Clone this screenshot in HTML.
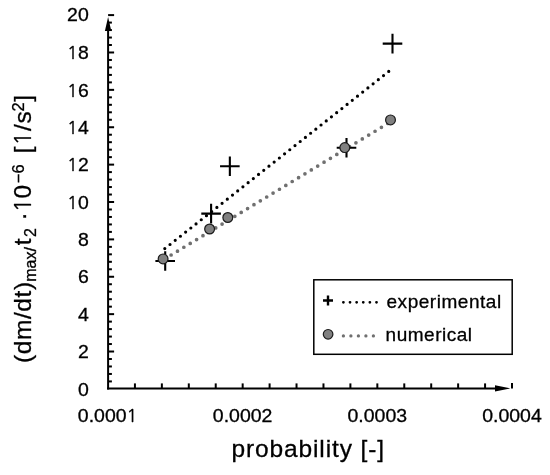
<!DOCTYPE html>
<html><head><meta charset="utf-8"><style>
html,body{margin:0;padding:0;background:#fff;}
body{width:550px;height:475px;overflow:hidden;}
svg{display:block;}
text{font-family:"Liberation Sans",Arial,sans-serif;fill:#000;stroke:#000;stroke-width:0.3px;}
.tl{font-size:18.5px;}
.lg{font-size:19px;}
.tt{font-size:24.5px;}
.one{font-family:"NanumGothic","Liberation Sans",sans-serif;font-size:0.926em;}
.sub{font-size:16px;}.sup{font-size:16.5px;}
</style></head><body>
<svg width="550" height="475" viewBox="0 0 550 475">
<rect width="550" height="475" fill="#fff"/>
<line x1="108.1" y1="389.4" x2="108.1" y2="28" stroke="#000" stroke-width="2"/>
<polygon points="108.1,17 104.89999999999999,31 111.3,31" fill="#000"/>
<line x1="107.1" y1="388.4" x2="497" y2="388.4" stroke="#000" stroke-width="2"/>
<polygon points="510.3,388.4 495,385.2 495,391.59999999999997" fill="#000"/>
<line x1="108.1" y1="381.42" x2="111.90" y2="381.42" stroke="#000" stroke-width="2"/>
<line x1="108.1" y1="373.95" x2="111.90" y2="373.95" stroke="#000" stroke-width="2"/>
<line x1="108.1" y1="366.47" x2="111.90" y2="366.47" stroke="#000" stroke-width="2"/>
<line x1="108.1" y1="359.00" x2="111.90" y2="359.00" stroke="#000" stroke-width="2"/>
<line x1="108.1" y1="351.52" x2="114.10" y2="351.52" stroke="#000" stroke-width="2"/>
<line x1="108.1" y1="344.04" x2="111.90" y2="344.04" stroke="#000" stroke-width="2"/>
<line x1="108.1" y1="336.57" x2="111.90" y2="336.57" stroke="#000" stroke-width="2"/>
<line x1="108.1" y1="329.09" x2="111.90" y2="329.09" stroke="#000" stroke-width="2"/>
<line x1="108.1" y1="321.62" x2="111.90" y2="321.62" stroke="#000" stroke-width="2"/>
<line x1="108.1" y1="314.14" x2="114.10" y2="314.14" stroke="#000" stroke-width="2"/>
<line x1="108.1" y1="306.66" x2="111.90" y2="306.66" stroke="#000" stroke-width="2"/>
<line x1="108.1" y1="299.19" x2="111.90" y2="299.19" stroke="#000" stroke-width="2"/>
<line x1="108.1" y1="291.71" x2="111.90" y2="291.71" stroke="#000" stroke-width="2"/>
<line x1="108.1" y1="284.24" x2="111.90" y2="284.24" stroke="#000" stroke-width="2"/>
<line x1="108.1" y1="276.76" x2="114.10" y2="276.76" stroke="#000" stroke-width="2"/>
<line x1="108.1" y1="269.28" x2="111.90" y2="269.28" stroke="#000" stroke-width="2"/>
<line x1="108.1" y1="261.81" x2="111.90" y2="261.81" stroke="#000" stroke-width="2"/>
<line x1="108.1" y1="254.33" x2="111.90" y2="254.33" stroke="#000" stroke-width="2"/>
<line x1="108.1" y1="246.86" x2="111.90" y2="246.86" stroke="#000" stroke-width="2"/>
<line x1="108.1" y1="239.38" x2="114.10" y2="239.38" stroke="#000" stroke-width="2"/>
<line x1="108.1" y1="231.90" x2="111.90" y2="231.90" stroke="#000" stroke-width="2"/>
<line x1="108.1" y1="224.43" x2="111.90" y2="224.43" stroke="#000" stroke-width="2"/>
<line x1="108.1" y1="216.95" x2="111.90" y2="216.95" stroke="#000" stroke-width="2"/>
<line x1="108.1" y1="209.48" x2="111.90" y2="209.48" stroke="#000" stroke-width="2"/>
<line x1="108.1" y1="202.00" x2="114.10" y2="202.00" stroke="#000" stroke-width="2"/>
<line x1="108.1" y1="194.52" x2="111.90" y2="194.52" stroke="#000" stroke-width="2"/>
<line x1="108.1" y1="187.05" x2="111.90" y2="187.05" stroke="#000" stroke-width="2"/>
<line x1="108.1" y1="179.57" x2="111.90" y2="179.57" stroke="#000" stroke-width="2"/>
<line x1="108.1" y1="172.10" x2="111.90" y2="172.10" stroke="#000" stroke-width="2"/>
<line x1="108.1" y1="164.62" x2="114.10" y2="164.62" stroke="#000" stroke-width="2"/>
<line x1="108.1" y1="157.14" x2="111.90" y2="157.14" stroke="#000" stroke-width="2"/>
<line x1="108.1" y1="149.67" x2="111.90" y2="149.67" stroke="#000" stroke-width="2"/>
<line x1="108.1" y1="142.19" x2="111.90" y2="142.19" stroke="#000" stroke-width="2"/>
<line x1="108.1" y1="134.72" x2="111.90" y2="134.72" stroke="#000" stroke-width="2"/>
<line x1="108.1" y1="127.24" x2="114.10" y2="127.24" stroke="#000" stroke-width="2"/>
<line x1="108.1" y1="119.76" x2="111.90" y2="119.76" stroke="#000" stroke-width="2"/>
<line x1="108.1" y1="112.29" x2="111.90" y2="112.29" stroke="#000" stroke-width="2"/>
<line x1="108.1" y1="104.81" x2="111.90" y2="104.81" stroke="#000" stroke-width="2"/>
<line x1="108.1" y1="97.34" x2="111.90" y2="97.34" stroke="#000" stroke-width="2"/>
<line x1="108.1" y1="89.86" x2="114.10" y2="89.86" stroke="#000" stroke-width="2"/>
<line x1="108.1" y1="82.38" x2="111.90" y2="82.38" stroke="#000" stroke-width="2"/>
<line x1="108.1" y1="74.91" x2="111.90" y2="74.91" stroke="#000" stroke-width="2"/>
<line x1="108.1" y1="67.43" x2="111.90" y2="67.43" stroke="#000" stroke-width="2"/>
<line x1="108.1" y1="59.96" x2="111.90" y2="59.96" stroke="#000" stroke-width="2"/>
<line x1="108.1" y1="52.48" x2="114.10" y2="52.48" stroke="#000" stroke-width="2"/>
<line x1="108.1" y1="45.00" x2="111.90" y2="45.00" stroke="#000" stroke-width="2"/>
<line x1="108.1" y1="37.53" x2="111.90" y2="37.53" stroke="#000" stroke-width="2"/>
<line x1="108.1" y1="30.05" x2="111.90" y2="30.05" stroke="#000" stroke-width="2"/>
<line x1="108.1" y1="22.58" x2="111.90" y2="22.58" stroke="#000" stroke-width="2"/>
<line x1="108.1" y1="15.10" x2="114.10" y2="15.10" stroke="#000" stroke-width="2"/>
<line x1="134.93" y1="388.4" x2="134.93" y2="383.40" stroke="#000" stroke-width="2"/>
<line x1="161.87" y1="388.4" x2="161.87" y2="383.40" stroke="#000" stroke-width="2"/>
<line x1="188.80" y1="388.4" x2="188.80" y2="383.40" stroke="#000" stroke-width="2"/>
<line x1="215.73" y1="388.4" x2="215.73" y2="383.40" stroke="#000" stroke-width="2"/>
<line x1="242.67" y1="388.4" x2="242.67" y2="383.40" stroke="#000" stroke-width="2"/>
<line x1="269.60" y1="388.4" x2="269.60" y2="383.40" stroke="#000" stroke-width="2"/>
<line x1="296.53" y1="388.4" x2="296.53" y2="383.40" stroke="#000" stroke-width="2"/>
<line x1="323.47" y1="388.4" x2="323.47" y2="383.40" stroke="#000" stroke-width="2"/>
<line x1="350.40" y1="388.4" x2="350.40" y2="383.40" stroke="#000" stroke-width="2"/>
<line x1="377.33" y1="388.4" x2="377.33" y2="383.40" stroke="#000" stroke-width="2"/>
<line x1="404.27" y1="388.4" x2="404.27" y2="383.40" stroke="#000" stroke-width="2"/>
<line x1="431.20" y1="388.4" x2="431.20" y2="383.40" stroke="#000" stroke-width="2"/>
<line x1="458.13" y1="388.4" x2="458.13" y2="383.40" stroke="#000" stroke-width="2"/>
<line x1="485.07" y1="388.4" x2="485.07" y2="383.40" stroke="#000" stroke-width="2"/>
<line x1="512.00" y1="388.4" x2="512.00" y2="382.90" stroke="#000" stroke-width="2"/>
<text x="88.8" y="395.60" text-anchor="end" class="tl" textLength="10.84" lengthAdjust="spacingAndGlyphs">0</text>
<text x="88.8" y="358.22" text-anchor="end" class="tl" textLength="10.84" lengthAdjust="spacingAndGlyphs">2</text>
<text x="88.8" y="320.84" text-anchor="end" class="tl" textLength="10.84" lengthAdjust="spacingAndGlyphs">4</text>
<text x="88.8" y="283.46" text-anchor="end" class="tl" textLength="10.84" lengthAdjust="spacingAndGlyphs">6</text>
<text x="88.8" y="246.08" text-anchor="end" class="tl" textLength="10.84" lengthAdjust="spacingAndGlyphs">8</text>
<text x="88.8" y="208.70" text-anchor="end" class="tl" textLength="21.68" lengthAdjust="spacingAndGlyphs"><tspan class="one">1</tspan>0</text>
<text x="88.8" y="171.32" text-anchor="end" class="tl" textLength="21.68" lengthAdjust="spacingAndGlyphs"><tspan class="one">1</tspan>2</text>
<text x="88.8" y="133.94" text-anchor="end" class="tl" textLength="21.68" lengthAdjust="spacingAndGlyphs"><tspan class="one">1</tspan>4</text>
<text x="88.8" y="96.56" text-anchor="end" class="tl" textLength="21.68" lengthAdjust="spacingAndGlyphs"><tspan class="one">1</tspan>6</text>
<text x="88.8" y="59.18" text-anchor="end" class="tl" textLength="21.68" lengthAdjust="spacingAndGlyphs"><tspan class="one">1</tspan>8</text>
<text x="88.8" y="20.70" text-anchor="end" class="tl" textLength="21.68" lengthAdjust="spacingAndGlyphs">20</text>
<text x="107.70" y="421.7" text-anchor="middle" class="tl" textLength="59.63" lengthAdjust="spacingAndGlyphs">0.000<tspan class="one">1</tspan></text>
<text x="242.67" y="421.7" text-anchor="middle" class="tl" textLength="59.63" lengthAdjust="spacingAndGlyphs">0.0002</text>
<text x="377.33" y="421.7" text-anchor="middle" class="tl" textLength="59.63" lengthAdjust="spacingAndGlyphs">0.0003</text>
<text x="512.00" y="421.7" text-anchor="middle" class="tl" textLength="59.63" lengthAdjust="spacingAndGlyphs">0.0004</text>
<line x1="164.8" y1="248.6" x2="388.75" y2="71.46" stroke="#000" stroke-width="3.2" stroke-linecap="round" stroke-dasharray="0 6.64"/>
<line x1="164.73" y1="258.87" x2="387.8" y2="123.5" stroke="#707070" stroke-width="3.7" stroke-linecap="round" stroke-dasharray="0 7.455"/>
<path d="M155.39999999999998 261.0H175.0M165.2 251.2V270.8" stroke="#000" stroke-width="2.1" fill="none"/>
<path d="M201.29999999999998 213.6H220.9M211.1 203.79999999999998V223.4" stroke="#000" stroke-width="2.1" fill="none"/>
<path d="M220.04999999999998 166.3H239.65M229.85 156.5V176.10000000000002" stroke="#000" stroke-width="2.1" fill="none"/>
<path d="M336.7 147.8H356.3M346.5 138.0V157.60000000000002" stroke="#000" stroke-width="2.1" fill="none"/>
<path d="M382.7 43.6H402.3M392.5 33.8V53.400000000000006" stroke="#000" stroke-width="2.1" fill="none"/>
<circle cx="163.1" cy="258.9" r="4.9" fill="#808080" stroke="#1a1a1a" stroke-width="1.2"/>
<circle cx="209.6" cy="229.0" r="4.9" fill="#808080" stroke="#1a1a1a" stroke-width="1.2"/>
<circle cx="227.8" cy="217.5" r="4.9" fill="#808080" stroke="#1a1a1a" stroke-width="1.2"/>
<circle cx="344.8" cy="147.6" r="4.9" fill="#808080" stroke="#1a1a1a" stroke-width="1.2"/>
<circle cx="390.5" cy="119.9" r="4.9" fill="#808080" stroke="#1a1a1a" stroke-width="1.2"/>
<rect x="313.8" y="279.8" width="198.4" height="74.5" fill="#fff" stroke="#000" stroke-width="1.5"/>
<path d="M323 300.5H333M328 295.5V305.5" stroke="#000" stroke-width="2.4" fill="none"/>
<line x1="343.4" y1="302.3" x2="376.6" y2="302.3" stroke="#000" stroke-width="2.8" stroke-linecap="round" stroke-dasharray="0 6.62"/>
<circle cx="328.1" cy="334.3" r="4.8" fill="#808080" stroke="#1a1a1a" stroke-width="1.2"/>
<line x1="343.4" y1="335.9" x2="373.5" y2="335.9" stroke="#707070" stroke-width="3.3" stroke-linecap="round" stroke-dasharray="0 7.5"/>
<text x="386.5" y="307.7" class="lg" textLength="114.7">experimental</text>
<text x="385.6" y="340.5" class="lg" textLength="86.4">numerical</text>
<text x="231.4" y="456.5" class="tt" textLength="152.6">probability [-]</text>
<text transform="translate(30.9,363.0) rotate(-90)" class="tt"><tspan x="-0.02" y="0" textLength="81.2">(dm/dt)</tspan><tspan x="81.24" y="4.8" class="sub">max/</tspan><tspan x="117.73" y="0">t</tspan><tspan x="126.10" y="4.8" class="sub">2</tspan><tspan x="142.48" y="0">·<tspan class="one">1</tspan>0</tspan><tspan x="179.79" y="-7.4" class="sup">−6</tspan><tspan x="209.86" y="0" textLength="42">[<tspan class="one">1</tspan>/s</tspan><tspan x="251.58" y="-7.4" class="sup">2</tspan><tspan x="261.30" y="0">]</tspan></text>
</svg>
</body></html>
